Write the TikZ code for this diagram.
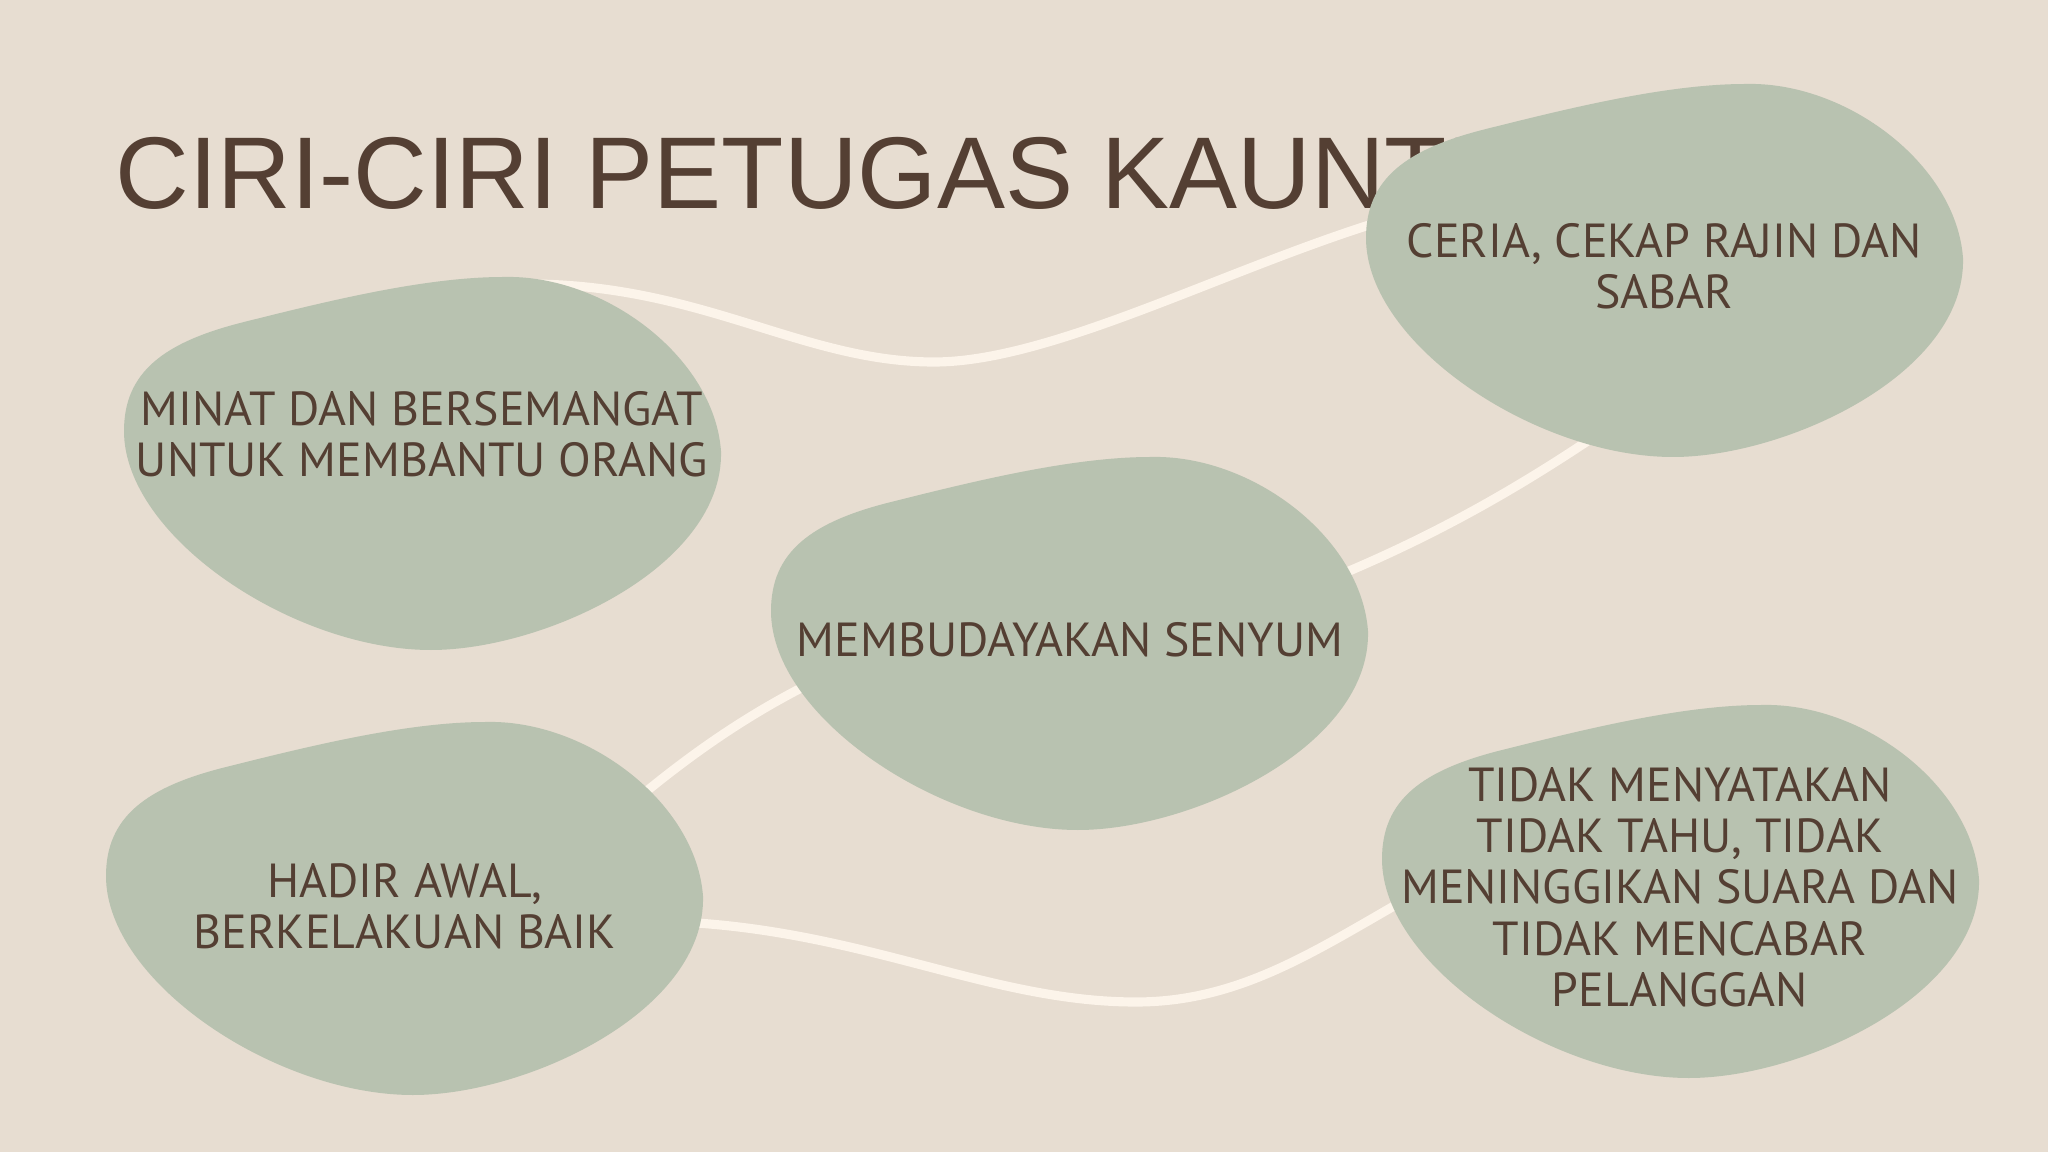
\documentclass[tikz,border=0pt]{standalone}
\usepackage{fontspec}
\setmainfont{PT Sans}
\newfontfamily\titlefont{Liberation Sans}
\usepackage{xcolor}
\usetikzlibrary{positioning,calc}

\definecolor{bgsand}{RGB}{231,221,209}
\definecolor{blobgreen}{RGB}{184,194,176}
\definecolor{linecream}{RGB}{252,244,234}
\definecolor{inkbrown}{RGB}{84,63,51}

\begin{document}
\begin{tikzpicture}[x=0.01cm, y=-0.01cm, line cap=round, line join=round]
	% ---- nền ----
	\fill[bgsand] (0,0) rectangle (2048,1152);
	\useasboundingbox (0,0) rectangle (2048,1152);
	
	% ---- tiêu đề (bị hình đốm che một phần) ----
	\node[anchor=base west, inner sep=0pt, text=inkbrown,
	font=\titlefont\fontsize{29}{34}\selectfont] (title) at (115,209) {CIRI-CIRI PETUGAS KAUNTER};
	
	% ---- đầu mút các đường nối (nằm dưới các đốm) ----
	\coordinate (mA) at (520,284);
	\coordinate (mB) at (934,362);
	\coordinate (cA) at (1420,210);
	\coordinate (cB) at (1640,405);
	\coordinate (sA) at (1290,595);
	\coordinate (sB) at (860,660);
	\coordinate (hA) at (590,840);
	\coordinate (hB) at (640,921);
	\coordinate (hC) at (1136,1002);
	\coordinate (tA) at (1440,880);
	
	% ---- các đường nối màu kem ----
	\tikzset{link/.style={draw=linecream, line width=2.6pt}}
	\draw[link] (mA) .. controls (700,282) and (800,362) .. (mB)
	.. controls (1060,362) and (1250,255) .. (cA);
	\draw[link] (cB) .. controls (1520,490) and (1420,545) .. (sA);
	\draw[link] (sB) .. controls (780,695) and (700,740) .. (hA);
	\draw[link] (hB) .. controls (850,921) and (980,1002) .. (hC)
	.. controls (1250,1002) and (1330,940) .. (tA);
	
	% ---- các đốm (vẽ sau để che đường nối) ----
	\foreach \bx/\by in {124/277, 1366/84, 771/457, 106/722, 1382/705}{
		\fill[blobgreen, shift={(\bx,\by)}]
		(379,0) .. controls (480,-3) and (590,80) .. (597,174)
		.. controls (600,290) and (420,373) .. (307,373)
		.. controls (170,373) and (0,260) .. (0,154)
		.. controls (0,95) and (40,65) .. (120,45)
		.. controls (200,25) and (300,0) .. (379,0) -- cycle;
	}
	
	% ---- chữ trong các đốm ----
	\tikzset{trait/.style={align=center, text=inkbrown, inner sep=0pt,
			font=\fontsize{13.6}{14.6}\selectfont}}
	\node[trait] (minat) at (422,434) {MINAT DAN BERSEMANGAT\\UNTUK MEMBANTU ORANG};
	\node[trait] (ceria) at (1664,266) {CERIA, CEKAP RAJIN DAN\\SABAR};
	\node[trait] (senyum) at (1070,640) {MEMBUDAYAKAN SENYUM};
	\node[trait] (hadir) at (405,906) {HADIR AWAL,\\BERKELAKUAN BAIK};
	\node[trait] (tidak) at (1680,887) {TIDAK MENYATAKAN\\TIDAK TAHU, TIDAK\\MENINGGIKAN SUARA DAN\\TIDAK MENCABAR\\PELANGGAN};
\end{tikzpicture}
\end{document}
